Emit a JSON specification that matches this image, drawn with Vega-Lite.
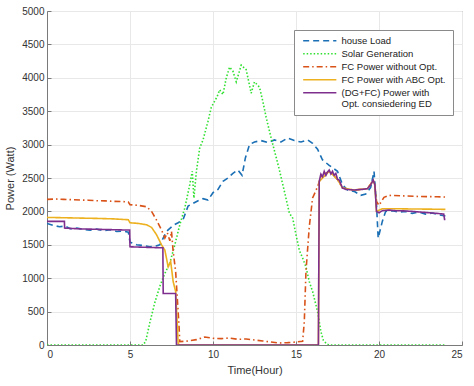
{
  "$schema": "https://vega.github.io/schema/vega-lite/v6.json",
  "width": 415,
  "height": 334,
  "autosize": "none",
  "padding": {"left": 47, "top": 11, "right": 12, "bottom": 41},
  "background": "white",
  "config": {
    "font": "Liberation Sans",
    "view": {"stroke": "#7a7a7a", "strokeWidth": 1},
    "axis": {
      "domainColor": "#7a7a7a",
      "tickColor": "#7a7a7a",
      "gridColor": "#e8e8e8",
      "labelColor": "#333333",
      "titleColor": "#333333",
      "labelFont": "Liberation Sans",
      "titleFont": "Liberation Sans",
      "labelFontSize": 10,
      "titleFontSize": 11,
      "titleFontWeight": "normal",
      "tickSize": -4
    }
  },
  "datasets": {
    "rows": [
      {"series": "house Load", "hour": 0, "power": 1820},
      {"series": "house Load", "hour": 0.4, "power": 1790},
      {"series": "house Load", "hour": 0.76, "power": 1770},
      {"series": "house Load", "hour": 1.1, "power": 1780},
      {"series": "house Load", "hour": 1.4, "power": 1740},
      {"series": "house Load", "hour": 1.8, "power": 1750},
      {"series": "house Load", "hour": 2.2, "power": 1730},
      {"series": "house Load", "hour": 2.6, "power": 1720},
      {"series": "house Load", "hour": 3.0, "power": 1735},
      {"series": "house Load", "hour": 3.4, "power": 1710},
      {"series": "house Load", "hour": 3.8, "power": 1725},
      {"series": "house Load", "hour": 4.2, "power": 1700},
      {"series": "house Load", "hour": 4.6, "power": 1705},
      {"series": "house Load", "hour": 4.9, "power": 1690},
      {"series": "house Load", "hour": 5.0, "power": 1540},
      {"series": "house Load", "hour": 5.4, "power": 1500},
      {"series": "house Load", "hour": 5.8, "power": 1490},
      {"series": "house Load", "hour": 6.2, "power": 1470},
      {"series": "house Load", "hour": 6.5, "power": 1480},
      {"series": "house Load", "hour": 6.8, "power": 1500},
      {"series": "house Load", "hour": 7.0, "power": 1600},
      {"series": "house Load", "hour": 7.2, "power": 1700},
      {"series": "house Load", "hour": 7.6, "power": 1790},
      {"series": "house Load", "hour": 7.9, "power": 1830},
      {"series": "house Load", "hour": 8.2, "power": 1880},
      {"series": "house Load", "hour": 8.5, "power": 2080},
      {"series": "house Load", "hour": 8.8, "power": 2120},
      {"series": "house Load", "hour": 9.1, "power": 2160},
      {"series": "house Load", "hour": 9.4, "power": 2190},
      {"series": "house Load", "hour": 9.7, "power": 2170},
      {"series": "house Load", "hour": 10.0, "power": 2280},
      {"series": "house Load", "hour": 10.3, "power": 2330},
      {"series": "house Load", "hour": 10.6, "power": 2450},
      {"series": "house Load", "hour": 10.9, "power": 2500},
      {"series": "house Load", "hour": 11.2, "power": 2570},
      {"series": "house Load", "hour": 11.5, "power": 2620},
      {"series": "house Load", "hour": 11.75, "power": 2540},
      {"series": "house Load", "hour": 11.95, "power": 2800},
      {"series": "house Load", "hour": 12.2, "power": 3000},
      {"series": "house Load", "hour": 12.5, "power": 3040},
      {"series": "house Load", "hour": 12.9, "power": 3060},
      {"series": "house Load", "hour": 13.3, "power": 3030},
      {"series": "house Load", "hour": 13.7, "power": 3070},
      {"series": "house Load", "hour": 14.1, "power": 3040},
      {"series": "house Load", "hour": 14.5, "power": 3100},
      {"series": "house Load", "hour": 14.9, "power": 3060},
      {"series": "house Load", "hour": 15.3, "power": 3040},
      {"series": "house Load", "hour": 15.7, "power": 3070},
      {"series": "house Load", "hour": 16.0, "power": 3020},
      {"series": "house Load", "hour": 16.3, "power": 2930},
      {"series": "house Load", "hour": 16.6, "power": 2770},
      {"series": "house Load", "hour": 17.0, "power": 2690},
      {"series": "house Load", "hour": 17.5, "power": 2600},
      {"series": "house Load", "hour": 17.8, "power": 2400},
      {"series": "house Load", "hour": 18.1, "power": 2320},
      {"series": "house Load", "hour": 18.5, "power": 2300},
      {"series": "house Load", "hour": 18.9, "power": 2240},
      {"series": "house Load", "hour": 19.2, "power": 2260},
      {"series": "house Load", "hour": 19.5, "power": 2360},
      {"series": "house Load", "hour": 19.7, "power": 2600},
      {"series": "house Load", "hour": 19.85, "power": 2100},
      {"series": "house Load", "hour": 19.95, "power": 1600},
      {"series": "house Load", "hour": 20.2, "power": 1850},
      {"series": "house Load", "hour": 20.4, "power": 2000},
      {"series": "house Load", "hour": 20.8, "power": 2010},
      {"series": "house Load", "hour": 21.2, "power": 1990},
      {"series": "house Load", "hour": 21.6, "power": 2000},
      {"series": "house Load", "hour": 22.0, "power": 1970},
      {"series": "house Load", "hour": 22.4, "power": 1990},
      {"series": "house Load", "hour": 22.8, "power": 1960},
      {"series": "house Load", "hour": 23.2, "power": 1975},
      {"series": "house Load", "hour": 23.6, "power": 1950},
      {"series": "house Load", "hour": 24.0, "power": 1930},

      {"series": "Solar Generation", "hour": 0, "power": 0},
      {"series": "Solar Generation", "hour": 5.8, "power": 0},
      {"series": "Solar Generation", "hour": 5.95, "power": 60},
      {"series": "Solar Generation", "hour": 6.2, "power": 340},
      {"series": "Solar Generation", "hour": 6.5, "power": 640},
      {"series": "Solar Generation", "hour": 6.8, "power": 880},
      {"series": "Solar Generation", "hour": 7.1, "power": 1070},
      {"series": "Solar Generation", "hour": 7.4, "power": 1230},
      {"series": "Solar Generation", "hour": 7.7, "power": 1500},
      {"series": "Solar Generation", "hour": 8.0, "power": 1800},
      {"series": "Solar Generation", "hour": 8.3, "power": 2050},
      {"series": "Solar Generation", "hour": 8.6, "power": 2400},
      {"series": "Solar Generation", "hour": 8.75, "power": 2600},
      {"series": "Solar Generation", "hour": 8.85, "power": 2200},
      {"series": "Solar Generation", "hour": 9.0, "power": 2600},
      {"series": "Solar Generation", "hour": 9.2, "power": 2950},
      {"series": "Solar Generation", "hour": 9.4, "power": 3070},
      {"series": "Solar Generation", "hour": 9.7, "power": 3350},
      {"series": "Solar Generation", "hour": 9.9, "power": 3560},
      {"series": "Solar Generation", "hour": 10.1, "power": 3650},
      {"series": "Solar Generation", "hour": 10.25, "power": 3720},
      {"series": "Solar Generation", "hour": 10.4, "power": 3820},
      {"series": "Solar Generation", "hour": 10.6, "power": 3750},
      {"series": "Solar Generation", "hour": 10.8, "power": 4000},
      {"series": "Solar Generation", "hour": 11.0, "power": 4160},
      {"series": "Solar Generation", "hour": 11.2, "power": 4100},
      {"series": "Solar Generation", "hour": 11.4, "power": 3940},
      {"series": "Solar Generation", "hour": 11.7, "power": 4190},
      {"series": "Solar Generation", "hour": 12.0, "power": 4120},
      {"series": "Solar Generation", "hour": 12.3, "power": 3770},
      {"series": "Solar Generation", "hour": 12.5, "power": 3940},
      {"series": "Solar Generation", "hour": 12.8, "power": 3860},
      {"series": "Solar Generation", "hour": 13.0, "power": 3650},
      {"series": "Solar Generation", "hour": 13.2, "power": 3410},
      {"series": "Solar Generation", "hour": 13.5, "power": 3100},
      {"series": "Solar Generation", "hour": 13.8, "power": 2815},
      {"series": "Solar Generation", "hour": 14.0, "power": 2620},
      {"series": "Solar Generation", "hour": 14.3, "power": 2300},
      {"series": "Solar Generation", "hour": 14.6, "power": 1975},
      {"series": "Solar Generation", "hour": 14.8, "power": 1900},
      {"series": "Solar Generation", "hour": 15.0, "power": 1650},
      {"series": "Solar Generation", "hour": 15.2, "power": 1420},
      {"series": "Solar Generation", "hour": 15.4, "power": 1300},
      {"series": "Solar Generation", "hour": 15.6, "power": 1170},
      {"series": "Solar Generation", "hour": 15.8, "power": 950},
      {"series": "Solar Generation", "hour": 16.0, "power": 800},
      {"series": "Solar Generation", "hour": 16.3, "power": 500},
      {"series": "Solar Generation", "hour": 16.5, "power": 200},
      {"series": "Solar Generation", "hour": 16.65, "power": 70},
      {"series": "Solar Generation", "hour": 16.85, "power": 15},
      {"series": "Solar Generation", "hour": 17.0, "power": 0},
      {"series": "Solar Generation", "hour": 24.0, "power": 0},

      {"series": "FC Power without Opt.", "hour": 0, "power": 2180},
      {"series": "FC Power without Opt.", "hour": 0.5, "power": 2185},
      {"series": "FC Power without Opt.", "hour": 1.0, "power": 2180},
      {"series": "FC Power without Opt.", "hour": 1.5, "power": 2175},
      {"series": "FC Power without Opt.", "hour": 2.0, "power": 2170},
      {"series": "FC Power without Opt.", "hour": 2.5, "power": 2168},
      {"series": "FC Power without Opt.", "hour": 3.0, "power": 2160},
      {"series": "FC Power without Opt.", "hour": 3.5, "power": 2158},
      {"series": "FC Power without Opt.", "hour": 4.0, "power": 2150},
      {"series": "FC Power without Opt.", "hour": 4.5, "power": 2148},
      {"series": "FC Power without Opt.", "hour": 4.9, "power": 2140},
      {"series": "FC Power without Opt.", "hour": 5.0, "power": 2100},
      {"series": "FC Power without Opt.", "hour": 5.5, "power": 2090},
      {"series": "FC Power without Opt.", "hour": 6.0, "power": 2070},
      {"series": "FC Power without Opt.", "hour": 6.3, "power": 2000},
      {"series": "FC Power without Opt.", "hour": 6.6, "power": 1870},
      {"series": "FC Power without Opt.", "hour": 6.9, "power": 1720},
      {"series": "FC Power without Opt.", "hour": 7.1, "power": 1600},
      {"series": "FC Power without Opt.", "hour": 7.25, "power": 1680},
      {"series": "FC Power without Opt.", "hour": 7.4, "power": 1560},
      {"series": "FC Power without Opt.", "hour": 7.5, "power": 1700},
      {"series": "FC Power without Opt.", "hour": 7.6, "power": 1400},
      {"series": "FC Power without Opt.", "hour": 7.75, "power": 1100},
      {"series": "FC Power without Opt.", "hour": 7.85, "power": 700},
      {"series": "FC Power without Opt.", "hour": 7.95, "power": 300},
      {"series": "FC Power without Opt.", "hour": 8.0, "power": 50},
      {"series": "FC Power without Opt.", "hour": 8.5, "power": 60},
      {"series": "FC Power without Opt.", "hour": 9.0, "power": 80},
      {"series": "FC Power without Opt.", "hour": 9.5, "power": 120},
      {"series": "FC Power without Opt.", "hour": 10.0, "power": 100},
      {"series": "FC Power without Opt.", "hour": 10.5, "power": 95},
      {"series": "FC Power without Opt.", "hour": 11.0, "power": 105},
      {"series": "FC Power without Opt.", "hour": 11.5, "power": 85},
      {"series": "FC Power without Opt.", "hour": 12.0, "power": 90},
      {"series": "FC Power without Opt.", "hour": 12.5, "power": 75},
      {"series": "FC Power without Opt.", "hour": 13.0, "power": 60},
      {"series": "FC Power without Opt.", "hour": 13.5, "power": 45},
      {"series": "FC Power without Opt.", "hour": 14.0, "power": 30},
      {"series": "FC Power without Opt.", "hour": 14.5, "power": 35},
      {"series": "FC Power without Opt.", "hour": 15.0, "power": 45},
      {"series": "FC Power without Opt.", "hour": 15.4, "power": 55},
      {"series": "FC Power without Opt.", "hour": 15.5, "power": 350},
      {"series": "FC Power without Opt.", "hour": 15.6, "power": 1100},
      {"series": "FC Power without Opt.", "hour": 15.8, "power": 1770},
      {"series": "FC Power without Opt.", "hour": 16.0, "power": 2200},
      {"series": "FC Power without Opt.", "hour": 16.3, "power": 2370},
      {"series": "FC Power without Opt.", "hour": 16.45, "power": 2480},
      {"series": "FC Power without Opt.", "hour": 16.6, "power": 2540},
      {"series": "FC Power without Opt.", "hour": 17.0, "power": 2600},
      {"series": "FC Power without Opt.", "hour": 17.5, "power": 2480},
      {"series": "FC Power without Opt.", "hour": 17.8, "power": 2350},
      {"series": "FC Power without Opt.", "hour": 18.5, "power": 2320},
      {"series": "FC Power without Opt.", "hour": 19.3, "power": 2340},
      {"series": "FC Power without Opt.", "hour": 19.65, "power": 2460},
      {"series": "FC Power without Opt.", "hour": 19.75, "power": 2400},
      {"series": "FC Power without Opt.", "hour": 19.85, "power": 2150},
      {"series": "FC Power without Opt.", "hour": 20.0, "power": 2090},
      {"series": "FC Power without Opt.", "hour": 20.3, "power": 2210},
      {"series": "FC Power without Opt.", "hour": 20.6, "power": 2240},
      {"series": "FC Power without Opt.", "hour": 21.5, "power": 2232},
      {"series": "FC Power without Opt.", "hour": 22.5, "power": 2222},
      {"series": "FC Power without Opt.", "hour": 23.5, "power": 2220},
      {"series": "FC Power without Opt.", "hour": 24.0, "power": 2215},

      {"series": "FC Power with ABC Opt.", "hour": 0, "power": 1910},
      {"series": "FC Power with ABC Opt.", "hour": 1.0, "power": 1905},
      {"series": "FC Power with ABC Opt.", "hour": 2.0, "power": 1900},
      {"series": "FC Power with ABC Opt.", "hour": 3.0, "power": 1895},
      {"series": "FC Power with ABC Opt.", "hour": 4.0, "power": 1888},
      {"series": "FC Power with ABC Opt.", "hour": 4.9, "power": 1875},
      {"series": "FC Power with ABC Opt.", "hour": 5.0, "power": 1830},
      {"series": "FC Power with ABC Opt.", "hour": 5.5, "power": 1820},
      {"series": "FC Power with ABC Opt.", "hour": 6.0, "power": 1800},
      {"series": "FC Power with ABC Opt.", "hour": 6.3, "power": 1760},
      {"series": "FC Power with ABC Opt.", "hour": 6.6, "power": 1650},
      {"series": "FC Power with ABC Opt.", "hour": 6.9, "power": 1500},
      {"series": "FC Power with ABC Opt.", "hour": 7.1, "power": 1420},
      {"series": "FC Power with ABC Opt.", "hour": 7.3, "power": 1170},
      {"series": "FC Power with ABC Opt.", "hour": 7.45, "power": 1250},
      {"series": "FC Power with ABC Opt.", "hour": 7.6, "power": 950},
      {"series": "FC Power with ABC Opt.", "hour": 7.75, "power": 800},
      {"series": "FC Power with ABC Opt.", "hour": 7.85, "power": 300},
      {"series": "FC Power with ABC Opt.", "hour": 7.9, "power": 20},
      {"series": "FC Power with ABC Opt.", "hour": 8.0, "power": 0},
      {"series": "FC Power with ABC Opt.", "hour": 16.35, "power": 0},
      {"series": "FC Power with ABC Opt.", "hour": 16.4, "power": 2450},
      {"series": "FC Power with ABC Opt.", "hour": 17.0, "power": 2600},
      {"series": "FC Power with ABC Opt.", "hour": 17.5, "power": 2480},
      {"series": "FC Power with ABC Opt.", "hour": 17.8, "power": 2350},
      {"series": "FC Power with ABC Opt.", "hour": 18.5, "power": 2320},
      {"series": "FC Power with ABC Opt.", "hour": 19.3, "power": 2340},
      {"series": "FC Power with ABC Opt.", "hour": 19.65, "power": 2460},
      {"series": "FC Power with ABC Opt.", "hour": 19.75, "power": 2400},
      {"series": "FC Power with ABC Opt.", "hour": 19.85, "power": 2000},
      {"series": "FC Power with ABC Opt.", "hour": 20.2, "power": 2040},
      {"series": "FC Power with ABC Opt.", "hour": 21.0, "power": 2040},
      {"series": "FC Power with ABC Opt.", "hour": 22.0, "power": 2036},
      {"series": "FC Power with ABC Opt.", "hour": 23.0, "power": 2034},
      {"series": "FC Power with ABC Opt.", "hour": 24.0, "power": 2030},

      {"series": "(DG+FC) Power with Opt. consiedering ED", "hour": 0, "power": 1850},
      {"series": "(DG+FC) Power with Opt. consiedering ED", "hour": 1.05, "power": 1850},
      {"series": "(DG+FC) Power with Opt. consiedering ED", "hour": 1.06, "power": 1750},
      {"series": "(DG+FC) Power with Opt. consiedering ED", "hour": 2.0, "power": 1738},
      {"series": "(DG+FC) Power with Opt. consiedering ED", "hour": 3.0, "power": 1732},
      {"series": "(DG+FC) Power with Opt. consiedering ED", "hour": 4.0, "power": 1726},
      {"series": "(DG+FC) Power with Opt. consiedering ED", "hour": 4.98, "power": 1720},
      {"series": "(DG+FC) Power with Opt. consiedering ED", "hour": 5.0, "power": 1470},
      {"series": "(DG+FC) Power with Opt. consiedering ED", "hour": 6.0, "power": 1462},
      {"series": "(DG+FC) Power with Opt. consiedering ED", "hour": 6.98, "power": 1455},
      {"series": "(DG+FC) Power with Opt. consiedering ED", "hour": 7.0, "power": 770},
      {"series": "(DG+FC) Power with Opt. consiedering ED", "hour": 7.75, "power": 770},
      {"series": "(DG+FC) Power with Opt. consiedering ED", "hour": 7.8, "power": 0},
      {"series": "(DG+FC) Power with Opt. consiedering ED", "hour": 16.35, "power": 0},
      {"series": "(DG+FC) Power with Opt. consiedering ED", "hour": 16.4, "power": 2450},
      {"series": "(DG+FC) Power with Opt. consiedering ED", "hour": 16.5, "power": 2560},
      {"series": "(DG+FC) Power with Opt. consiedering ED", "hour": 16.6, "power": 2520},
      {"series": "(DG+FC) Power with Opt. consiedering ED", "hour": 16.7, "power": 2600},
      {"series": "(DG+FC) Power with Opt. consiedering ED", "hour": 16.8, "power": 2540},
      {"series": "(DG+FC) Power with Opt. consiedering ED", "hour": 16.9, "power": 2590},
      {"series": "(DG+FC) Power with Opt. consiedering ED", "hour": 17.0, "power": 2620},
      {"series": "(DG+FC) Power with Opt. consiedering ED", "hour": 17.1, "power": 2560},
      {"series": "(DG+FC) Power with Opt. consiedering ED", "hour": 17.2, "power": 2600},
      {"series": "(DG+FC) Power with Opt. consiedering ED", "hour": 17.3, "power": 2540},
      {"series": "(DG+FC) Power with Opt. consiedering ED", "hour": 17.4, "power": 2570},
      {"series": "(DG+FC) Power with Opt. consiedering ED", "hour": 17.5, "power": 2480},
      {"series": "(DG+FC) Power with Opt. consiedering ED", "hour": 17.6, "power": 2470},
      {"series": "(DG+FC) Power with Opt. consiedering ED", "hour": 17.8, "power": 2350},
      {"series": "(DG+FC) Power with Opt. consiedering ED", "hour": 18.0, "power": 2330},
      {"series": "(DG+FC) Power with Opt. consiedering ED", "hour": 18.5, "power": 2320},
      {"series": "(DG+FC) Power with Opt. consiedering ED", "hour": 19.0, "power": 2330},
      {"series": "(DG+FC) Power with Opt. consiedering ED", "hour": 19.3, "power": 2340},
      {"series": "(DG+FC) Power with Opt. consiedering ED", "hour": 19.5, "power": 2400},
      {"series": "(DG+FC) Power with Opt. consiedering ED", "hour": 19.65, "power": 2470},
      {"series": "(DG+FC) Power with Opt. consiedering ED", "hour": 19.75, "power": 2400},
      {"series": "(DG+FC) Power with Opt. consiedering ED", "hour": 19.85, "power": 2000},
      {"series": "(DG+FC) Power with Opt. consiedering ED", "hour": 20.0, "power": 1980},
      {"series": "(DG+FC) Power with Opt. consiedering ED", "hour": 20.2, "power": 2010},
      {"series": "(DG+FC) Power with Opt. consiedering ED", "hour": 20.6, "power": 2020},
      {"series": "(DG+FC) Power with Opt. consiedering ED", "hour": 21.0, "power": 2010},
      {"series": "(DG+FC) Power with Opt. consiedering ED", "hour": 21.5, "power": 2008},
      {"series": "(DG+FC) Power with Opt. consiedering ED", "hour": 22.0, "power": 2000},
      {"series": "(DG+FC) Power with Opt. consiedering ED", "hour": 22.5, "power": 1990},
      {"series": "(DG+FC) Power with Opt. consiedering ED", "hour": 23.0, "power": 1980},
      {"series": "(DG+FC) Power with Opt. consiedering ED", "hour": 23.5, "power": 1970},
      {"series": "(DG+FC) Power with Opt. consiedering ED", "hour": 23.9, "power": 1960},
      {"series": "(DG+FC) Power with Opt. consiedering ED", "hour": 23.95, "power": 1880},
      {"series": "(DG+FC) Power with Opt. consiedering ED", "hour": 24.0, "power": 1880}
    ]
  },
  "data": {"name": "rows"},
  "mark": {"type": "line", "strokeWidth": 1.6, "clip": true},
  "encoding": {
    "x": {
      "field": "hour", "type": "quantitative",
      "scale": {"domain": [0, 25], "nice": false},
      "axis": {"title": "Time(Hour)", "values": [0, 5, 10, 15, 20, 25], "grid": true, "labelPadding": 8, "titlePadding": 5}
    },
    "y": {
      "field": "power", "type": "quantitative",
      "scale": {"domain": [0, 5000], "nice": false},
      "axis": {"title": "Power (Watt)", "format": "d", "values": [0, 500, 1000, 1500, 2000, 2500, 3000, 3500, 4000, 4500, 5000], "grid": true, "labelPadding": 7, "titlePadding": 6}
    },
    "color": {
      "field": "series", "type": "nominal",
      "scale": {
        "domain": ["house Load", "Solar Generation", "FC Power without Opt.", "FC Power with ABC Opt.", "(DG+FC) Power with Opt. consiedering ED"],
        "range": ["#1a6fb5", "#2fe02f", "#d95319", "#edb120", "#7e2f8e"]
      },
      "legend": {
        "title": null,
        "orient": "none",
        "legendX": 247,
        "legendY": 19,
        "direction": "vertical",
        "symbolType": "M-1,0H20",
        "symbolSize": 10,
        "symbolStrokeWidth": 1.6,
        "symbolFillColor": "transparent",
        "labelOffset": 32,
        "labelFontSize": 9.5,
        "labelFont": "Liberation Sans",
        "labelColor": "#222222",
        "labelLimit": 200,
        "rowPadding": 2,
        "padding": 6,
        "strokeColor": "#8a8a8a",
        "fillColor": "white",
        "labelExpr": "datum.label == '(DG+FC) Power with Opt. consiedering ED' ? ['(DG+FC) Power with', 'Opt. consiedering ED'] : datum.label"
      }
    },
    "strokeDash": {
      "field": "series", "type": "nominal",
      "scale": {
        "domain": ["house Load", "Solar Generation", "FC Power without Opt.", "FC Power with ABC Opt.", "(DG+FC) Power with Opt. consiedering ED"],
        "range": [[6, 4], [1.5, 2], [6, 3, 1.5, 3], [1, 0], [1, 0]]
      },
      "legend": null
    },
    "order": {"field": "hour", "type": "quantitative"}
  }
}
